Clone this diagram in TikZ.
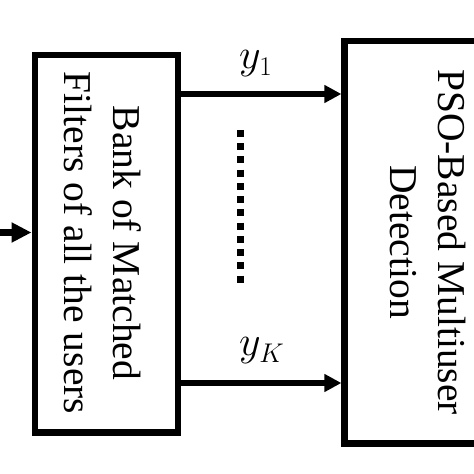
\RequirePackage{fix-cm}
\documentclass[tikz,border=0pt]{standalone}
\usepackage{fontspec}
\setmainfont{Liberation Serif}
\usetikzlibrary{arrows.meta}
\DeclareMathSizes{42}{42}{27}{20}
\begin{document}
\begin{tikzpicture}[x=1pt,y=1pt,
  box/.style={draw, line width=6.2pt, inner sep=0pt},
  boxtext/.style={rotate=-90, align=center, font=\fontsize{39.5}{48.5}\selectfont, inner sep=0pt},
  lab/.style={font=\fontsize{42}{42}\selectfont, inner sep=0pt, anchor=base west},
  conn/.style={line width=6pt, -{Triangle[length=17pt,width=17pt]}},
  inconn/.style={line width=6.5pt, -{Triangle[length=20pt,width=19pt]}},
  dotline/.style={line width=7.3pt, dash pattern=on 6.8pt off 6.45pt}]
\useasboundingbox (0,0) rectangle (474,474);
\clip (0,0) rectangle (474,474);
\node[box, minimum width=143.4pt, minimum height=377.8pt] (bank) at (106.3,230.4) {};
\node[boxtext] (banktext) at (102.5,231) {Bank of Matched\\Filters of all the users};
\node[box, minimum width=167pt, minimum height=402.3pt] (pso) at (428,231.65) {};
\node[boxtext] (psotext) at (428,232) {PSO-Based Multiuser\\Detection};
\coordinate (in) at (-5,241.5);
\draw[inconn] (in) -- (in -| bank.west);
\coordinate (a1) at (0,380);
\draw[conn] (a1 -| bank.east) -- (a1 -| pso.west);
\coordinate (aK) at (0,91);
\draw[conn] (aK -| bank.east) -- (aK -| pso.west);
\coordinate (dtop) at (240.5,344);
\coordinate (dbot) at (240.5,191.25);
\draw[dotline] (dtop) -- (dbot);
\node[lab] (y1) at (239,405) {$y_1$};
\node[lab] (yK) at (239,118) {$y_K$};
\end{tikzpicture}
\end{document}
